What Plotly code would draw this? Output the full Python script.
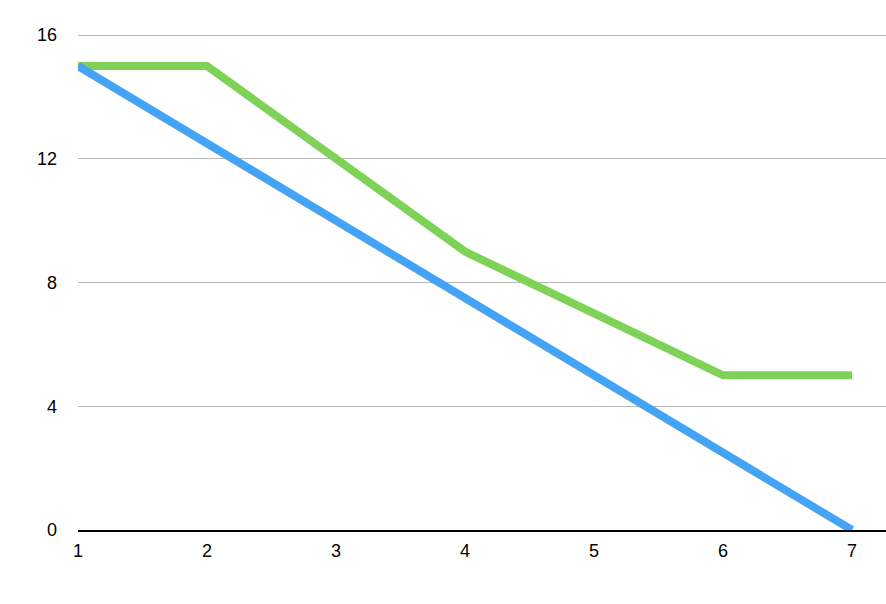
import plotly.graph_objs as go

x_vals = [1, 2, 3, 4, 5, 6, 7]
blue_vals = [15, 12.5, 10, 7.5, 5, 2.5, 0]
green_vals = [15, 15, 12, 9, 7, 5, 5]
y_ticks = [0, 4, 8, 12, 16]

green_line = go.Scatter(
    x=x_vals,
    y=green_vals,
    mode="lines",
    line=dict(color="#7ed257", width=8),
    showlegend=False,
    cliponaxis=False,
)
blue_line = go.Scatter(
    x=x_vals,
    y=blue_vals,
    mode="lines",
    line=dict(color="#45a3f5", width=8),
    showlegend=False,
    cliponaxis=False,
)

layout = go.Layout(
    width=886,
    height=604,
    plot_bgcolor="white",
    paper_bgcolor="white",
    font=dict(family="Liberation Sans, Arial, sans-serif", size=18, color="black"),
    margin=dict(l=78, r=0, t=32, b=74),
    xaxis=dict(
        range=[1, 7 + 34 / 129],
        tickvals=x_vals,
        showgrid=False,
        zeroline=False,
        showline=True,
        linecolor="black",
        linewidth=2,
        ticks="",
        ticklabelstandoff=3,
    ),
    yaxis=dict(
        # a bit above 16 so the top gridline is still drawn
        range=[0, 16.1],
        tickvals=y_ticks,
        showgrid=True,
        gridcolor="#b8b8b8",
        gridwidth=1,
        zeroline=False,
        showline=False,
        ticks="",
        ticklabelstandoff=20,
    ),
)

fig = go.Figure(data=[green_line, blue_line], layout=layout)
# drop the default body margin so the figure fills the window
fig.write_html(
    "out.html",
    config=dict(displayModeBar=False),
    post_script="document.body.style.margin='0';document.body.style.overflow='hidden';",
)
